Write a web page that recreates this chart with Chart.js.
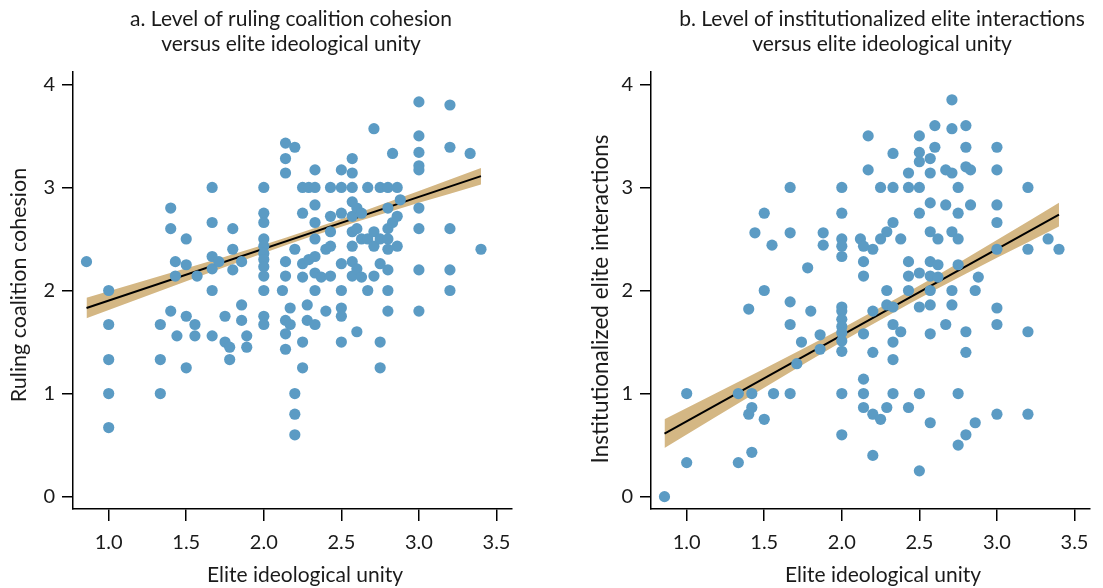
<!DOCTYPE html>
<html><head><meta charset="utf-8">
<script src="https://cdn.jsdelivr.net/npm/chart.js@4"></script>
<style>
html,body{margin:0;padding:0;background:#fff;}
#wrap{position:relative;width:1103px;height:588px;overflow:hidden;}
.c{position:absolute;top:0;}
</style></head><body>
<div id="wrap">
<canvas id="a" class="c" style="left:0" width="550" height="588"></canvas>
<canvas id="b" class="c" style="left:550px" width="553" height="588"></canvas>
</div>
<script>
// ---- Panel a: ruling coalition cohesion vs elite ideological unity ----
const unityA = [0.857,1.0,1.333,1.4,1.43,1.44,1.5,1.556,1.57,1.667,1.71,1.75,1.78,1.8,1.857,1.89,2.0,2.12,2.14,2.17,2.2,2.25,2.28,2.29,2.33,2.37,2.4,2.43,2.5,2.57,2.6,2.63,2.67,2.71,2.75,2.8,2.83,2.86,2.88,3.0,3.2,3.33,3.4];
const cohesion = [
  [2.28],[2.0,1.67,1.33,1.0,0.67],[1.67,1.33,1.0],[2.8,2.6,1.8],[2.28,2.14],[1.56],
  [2.5,2.25,1.75,1.25],[1.67,1.56],[2.14],[3.0,2.66,2.33,2.21,2.0,1.56],[2.28],[1.75,1.5],
  [1.45,1.33],[2.6,2.4,2.2],[2.28,1.86,1.71],[1.56,1.45],
  [3.0,2.75,2.66,2.5,2.43,2.36,2.3,2.23,2.14,2.0,1.75,1.67],[2.0],
  [3.43,3.28,3.14,2.28,2.14,1.71,1.58,1.43],[1.83,1.67],[3.39,2.4,1.0,0.8,0.6],
  [3.0,2.75,2.26,2.13,1.5,1.25],[1.86,1.71],[3.0,2.3],[3.17,3.0,2.83,2.66,2.5,2.33,2.17,2.0,1.67],
  [2.13],[2.4,1.8],[3.0,2.72,2.57,2.43,2.14],[3.17,3.0,2.75,2.26,2.0,1.83,1.75,1.5],
  [3.28,3.14,3.0,2.86,2.72,2.57,2.43,2.28,2.14],[2.8,2.6,2.21,1.6],[2.75,2.5,2.13],[3.0,2.5,2.0],
  [3.57,2.57,2.43,2.14],[3.0,2.5,2.26,1.5,1.25],[3.0,2.8,2.6,2.5,2.4,2.2,2.0,1.8],[3.33,2.66],
  [3.0,2.72,2.43],[2.88],[3.83,3.5,3.34,3.21,3.17,2.8,2.6,2.2,1.8],[3.8,3.39,2.6,2.2,2.0],[3.33],[2.4]
];
const fitAX = [0.857, 3.4];
const fitAY = [1.83, 3.11];
const bandAX = [0.857, 1.5, 2.0, 2.3, 2.6, 3.0, 3.4];
const bandALo = [1.73, 2.09, 2.365, 2.521, 2.667, 2.851, 3.029];
const bandAHi = [1.93, 2.216, 2.445, 2.591, 2.747, 2.965, 3.189];

// ---- Panel b: institutionalized elite interactions vs elite ideological unity ----
const unityB = [0.857,1.0,1.333,1.4,1.42,1.44,1.5,1.55,1.56,1.667,1.71,1.74,1.78,1.8,1.86,1.88,2.0,2.12,2.14,2.17,2.2,2.25,2.29,2.33,2.38,2.43,2.5,2.57,2.6,2.62,2.67,2.71,2.75,2.8,2.83,2.86,2.88,3.0,3.2,3.33,3.4];
const interactions = [
  [0.0],[1.0,0.33],[1.0,0.33],[1.82,0.8],[1.0,0.865,0.43],[2.56],[2.75,2.0,0.75],[2.44],[1.0],
  [3.0,2.56,1.89,1.67,1.0],[1.29],[1.5],[2.22],[1.8],[1.57,1.43],[2.56,2.44],
  [3.0,2.75,2.5,2.43,2.33,1.84,1.8,1.72,1.65,1.59,1.51,1.41,1.0,0.6],[2.5],
  [2.43,2.28,2.14,1.58,1.14,1.0,0.865],[3.5,3.17],[2.4,1.8,1.4,0.8,0.4],[3.0,2.5,0.75],
  [2.57,2.0,1.86,0.865],[3.33,3.0,2.66,1.84,1.67,1.5,1.33,1.0],[2.5,1.6],
  [3.14,3.0,2.28,2.14,2.0,0.865],[3.5,3.34,3.25,3.0,2.75,2.17,1.84,1.0,0.25],
  [3.28,3.14,2.85,2.57,2.28,2.14,2.0,1.86,1.58,0.717],[3.6,3.39],[2.5,2.25,2.13],[3.17,2.83,1.67],
  [3.85,3.57,3.14,2.57,2.0,1.86],[3.0,2.75,2.5,2.25,1.0,0.5],[3.6,3.39,3.2,1.6,1.4,0.6],[3.17,2.83],
  [2.0,0.717],[2.13],[3.39,3.17,2.83,2.66,2.4,1.83,1.67,0.8],[3.0,2.4,1.6,0.8],[2.5],[2.4]
];
const fitBX = [0.857, 3.4];
const fitBY = [0.611, 2.737];
const bandBX = [0.857, 1.5, 2.0, 2.3, 2.6, 3.0, 3.4];
const bandBLo = [0.471, 1.057, 1.502, 1.758, 2.004, 2.317, 2.622];
const bandBHi = [0.751, 1.241, 1.632, 1.878, 2.134, 2.489, 2.852];

const xTickValues = [1.0, 1.5, 2.0, 2.5, 3.0, 3.5];
const yTickValues = [0, 1, 2, 3, 4];

const BLUE = '#5b9bc4';
const TAN = '#d4b784';
const INK = '#1a1a1a';
const FONT = 'Lato, "Open Sans", sans-serif';

function flatten(xs, ys) {
  const out = [];
  xs.forEach((x, i) => ys[i].forEach(y => out.push({x, y})));
  return out;
}
function pairs(xs, ys) { return xs.map((x, i) => ({x, y: ys[i]})); }

function textPlugin(t) {
  return {
    id: 'texts',
    afterDraw(chart) {
      const ctx = chart.ctx;
      ctx.save();
      ctx.fillStyle = INK;
      ctx.textAlign = 'center';
      ctx.textBaseline = 'middle';
      ctx.font = '21px ' + FONT;
      ctx.fillText(t.title[0], t.titleX, 19);
      ctx.fillText(t.title[1], t.titleX, 44);
      ctx.fillText(t.xTitle, t.xTitleX, 575);
      ctx.font = t.ySize + 'px ' + FONT;
      ctx.translate(t.yTitleX, t.yTitleY);
      ctx.rotate(-Math.PI / 2);
      ctx.fillText(t.yTitle, 0, 0);
      ctx.restore();
    }
  };
}

function makeChart(id, c) {
  return new Chart(document.getElementById(id), {
    type: 'scatter',
    data: {
      datasets: [
        {data: flatten(c.xs, c.ys), backgroundColor: BLUE, borderWidth: 0, pointRadius: 5.6, pointHoverRadius: 5.6, order: 0},
        {type: 'line', data: pairs(c.fitX, c.fitY), borderColor: '#000', borderWidth: 2, pointRadius: 0, fill: false, order: 1},
        {type: 'line', data: pairs(c.bandX, c.bandLo), borderColor: 'rgba(0,0,0,0)', borderWidth: 0, pointRadius: 0, fill: false, cubicInterpolationMode: 'monotone', order: 3},
        {type: 'line', data: pairs(c.bandX, c.bandHi), borderColor: 'rgba(0,0,0,0)', borderWidth: 0, pointRadius: 0, fill: '-1', backgroundColor: TAN, cubicInterpolationMode: 'monotone', order: 2}
      ]
    },
    options: {
      responsive: false,
      animation: false,
      events: [],
      layout: {padding: {top: 72, left: c.padLeft, right: c.padRight, bottom: 0}},
      plugins: {legend: {display: false}, tooltip: {enabled: false}},
      scales: {
        x: {
          type: 'linear', min: 0.77, max: 3.6,
          afterFit(s) { s.height = 79; },
          afterBuildTicks(s) { s.ticks = xTickValues.map(v => ({value: v})); },
          border: {display: true, color: '#000', width: 1.5},
          grid: {display: true, drawOnChartArea: false, drawTicks: true, tickLength: 12, color: '#000', lineWidth: 1.5},
          ticks: {color: INK, font: {family: FONT, size: 20}, padding: 10, maxRotation: 0, autoSkip: false, callback: v => Number(v).toFixed(1)},
          title: {display: false}
        },
        y: {
          min: -0.12, max: 4.12,
          afterFit(s) { s.width = c.yWidth; },
          afterBuildTicks(s) { s.ticks = yTickValues.map(v => ({value: v})); },
          border: {display: true, color: '#000', width: 1.5},
          grid: {display: true, drawOnChartArea: false, drawTicks: true, tickLength: 11, color: '#000', lineWidth: 1.5},
          ticks: {color: INK, font: {family: FONT, size: 20}, padding: 7, callback: v => String(v)},
          title: {display: false}
        }
      }
    },
    plugins: [textPlugin(c.text)]
  });
}

makeChart('a', {
  xs: unityA, ys: cohesion, fitX: fitAX, fitY: fitAY, bandX: bandAX, bandLo: bandALo, bandHi: bandAHi,
  padLeft: 0, padRight: 38, yWidth: 73,
  text: {title: ['a. Level of ruling coalition cohesion', 'versus elite ideological unity'], titleX: 291,
         xTitle: 'Elite ideological unity', xTitleX: 305, yTitle: 'Ruling coalition cohesion', yTitleX: 19, yTitleY: 285, ySize: 21.5}
});
makeChart('b', {
  xs: unityB, ys: interactions, fitX: fitBX, fitY: fitBY, bandX: bandBX, bandLo: bandBLo, bandHi: bandBHi,
  padLeft: 0, padRight: 13, yWidth: 101,
  text: {title: ['b. Level of institutionalized elite interactions', 'versus elite ideological unity'], titleX: 332,
         xTitle: 'Elite ideological unity', xTitleX: 333, yTitle: 'Institutionalized elite interactions', yTitleX: 51, yTitleY: 299, ySize: 22.5}
});
</script>
</body></html>
